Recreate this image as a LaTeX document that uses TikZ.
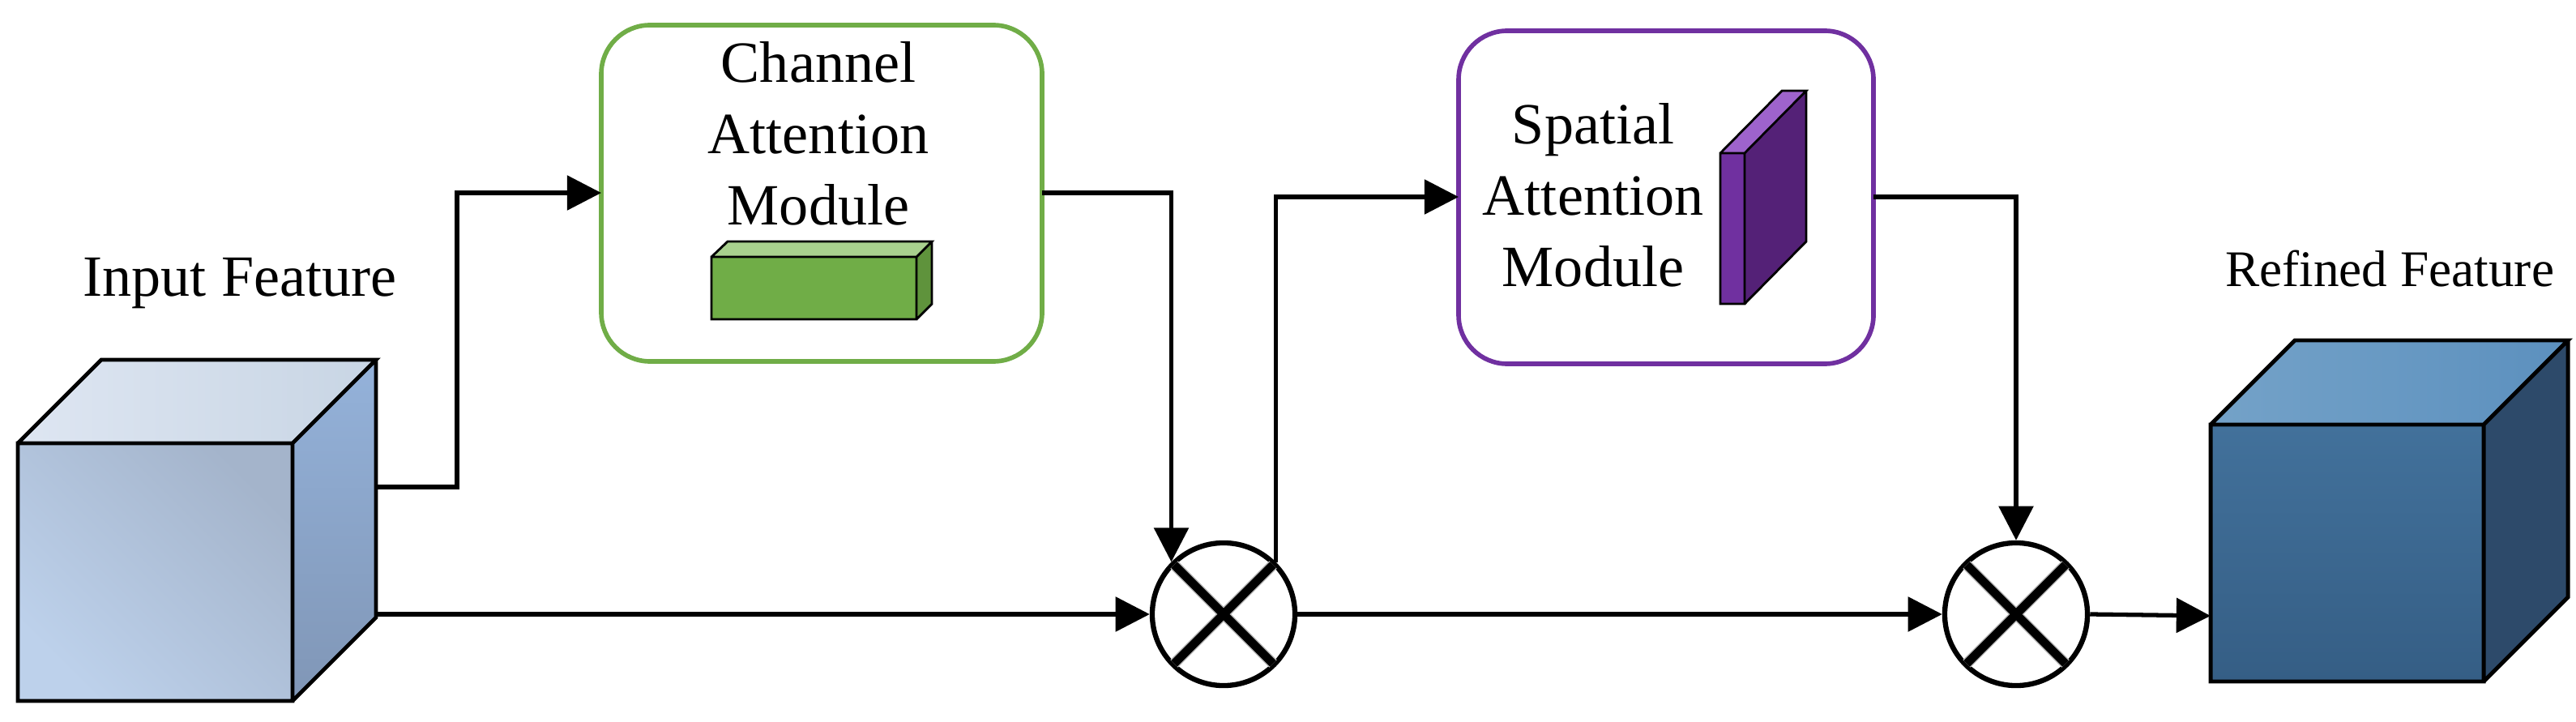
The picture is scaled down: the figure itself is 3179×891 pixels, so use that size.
\documentclass[tikz,border=0pt]{standalone}
\usepackage{fontspec}
\setmainfont{Liberation Serif}
\usetikzlibrary{arrows.meta,calc}
\definecolor{cagreen}{HTML}{70AD47}
\definecolor{cagreenl}{HTML}{A9D18E}
\definecolor{sapurple}{HTML}{7030A0}
\definecolor{sapurpled}{HTML}{542177}
\definecolor{sapurplel}{HTML}{9E63CC}
\definecolor{rfside}{RGB}{45,74,106}
\begin{document}
\begin{tikzpicture}[x=0.01cm,y=-0.01cm,
  conn/.style={line width=1.5pt,-{Triangle[length=12pt,width=12pt]}},
  edge/.style={line width=1.4pt,line join=miter},
  lbl/.style={font=\fontsize{20.5}{25}\selectfont,align=center,inner sep=0pt},
  modbox/.style={line width=1.6pt,rounded corners=0.6cm,fill=white},
  mult/.style={circle,draw,line width=1.8pt,minimum size=1.76cm,inner sep=0pt}]
\useasboundingbox (0,0) rectangle (3179,891);
% Input cube
\shade[left color={rgb,255:red,189;green,209;blue,235},right color={rgb,255:red,164;green,180;blue,203},shading angle=135]
  (22,547) rectangle (361,865);
\shade[left color={rgb,255:red,222;green,230;blue,242},right color={rgb,255:red,200;green,213;blue,228}]
  (22,547) -- (125,444) -- (464,444) -- (361,547) -- cycle;
\shade[top color={rgb,255:red,148;green,178;blue,218},bottom color={rgb,255:red,128;green,150;blue,182}]
  (361,547) -- (464,444) -- (464,762) -- (361,865) -- cycle;
\draw[edge] (22,547) rectangle (361,865) (22,547) -- (125,444) -- (464,444) -- (361,547) (464,444) -- (464,762) -- (361,865);
\coordinate (inA) at (464,601);
\coordinate (inB) at (464,758);
\node[lbl] (inlbl) at (296,350) {Input Feature};
% Channel module
\draw[modbox,draw=cagreen] (742,31) rectangle (1286,446);
\node[lbl] (cam) at (1010,165) {Channel\\Attention\\Module};
\fill[cagreenl] (878,317) -- (898,298) -- (1150,298) -- (1131,317) -- cycle;
\fill[cagreen!85!black] (1131,317) -- (1150,298) -- (1150,375) -- (1131,394) -- cycle;
\fill[cagreen] (878,317) rectangle (1131,394);
\draw[line width=0.8pt] (878,317) rectangle (1131,394) (878,317) -- (898,298) -- (1150,298) -- (1131,317) (1150,298) -- (1150,375) -- (1131,394);
\coordinate (camL) at (742,238);
\coordinate (camR) at (1286,238);
% Spatial module
\draw[modbox,draw=sapurple] (1800,38) rectangle (2312,449);
\node[lbl] (sam) at (1966,241) {Spatial\\Attention\\Module};
\fill[sapurplel] (2123,189) -- (2199,112) -- (2229,112) -- (2153,189) -- cycle;
\fill[sapurpled] (2153,189) -- (2229,112) -- (2229,298) -- (2153,375) -- cycle;
\fill[sapurple] (2123,189) rectangle (2153,375);
\draw[line width=0.8pt] (2123,189) rectangle (2153,375) (2123,189) -- (2199,112) -- (2229,112) -- (2153,189) (2229,112) -- (2229,298) -- (2153,375);
\coordinate (samL) at (1800,243);
\coordinate (samR) at (2312,243);
% Refined cube
\shade[top color={rgb,255:red,66;green,113;blue,155},bottom color={rgb,255:red,53;green,94;blue,133}]
  (2728,524) rectangle (3065,841);
\shade[left color={rgb,255:red,116;green,162;blue,200},right color={rgb,255:red,92;green,144;blue,190}]
  (2728,524) -- (2832,420) -- (3169,420) -- (3065,524) -- cycle;
\fill[rfside] (3065,524) -- (3169,420) -- (3169,737) -- (3065,841) -- cycle;
\draw[edge] (2728,524) rectangle (3065,841) (2728,524) -- (2832,420) -- (3169,420) -- (3065,524) (3169,420) -- (3169,737) -- (3065,841);
\coordinate (outL) at (2728,760);
\node[lbl,font=\fontsize{18}{22}\selectfont] (outlbl) at (2949,332) {Refined Feature};
% multipliers
\node[mult] (m1) at (1510,758) {};
\node[mult] (m2) at (2488,758) {};
\foreach \m in {m1,m2}{
  \draw[line width=3.8pt,gray!60] ($(\m)+(-61,-61)$) -- ($(\m)+(61,61)$) ($(\m)+(61,-61)$) -- ($(\m)+(-61,61)$);
  \draw[line width=3pt] ($(\m)+(-61,-61)$) -- ($(\m)+(61,61)$) ($(\m)+(61,-61)$) -- ($(\m)+(-61,61)$);
}
% connectors
\draw[conn] (inA) -| (564,238) -- (camL);
\draw[conn] (inB) -- (m1.west);
\draw[conn] (camR) -| (m1.135);
\draw[conn] (m1.45) |- (samL);
\draw[conn] (samR) -| (m2.north);
\draw[conn] (m1.east) -- (m2.west);
\draw[conn] (m2.east) -- (outL);
\end{tikzpicture}
\end{document}
